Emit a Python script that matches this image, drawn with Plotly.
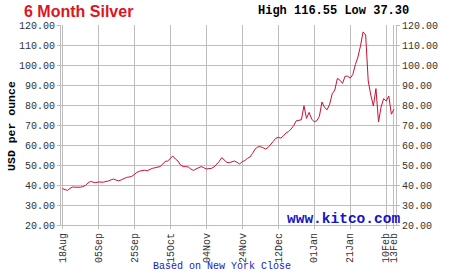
import plotly.graph_objects as go

# Daily silver close (USD/oz), trading-day index 0 = 18Aug ... 129 = 13Feb
prices = [
    38.2, 37.8, 37.3, 38.3, 39.0, 38.9, 38.8, 38.9, 39.2, 39.8,
    41.0, 41.8, 41.4, 41.2, 41.5, 41.3, 41.4, 41.8, 42.0, 42.6,
    43.0, 42.4, 42.1, 42.6, 43.3, 43.8, 44.0, 44.3, 45.2, 46.3,
    46.9, 47.2, 47.4, 47.1, 47.8, 48.3, 48.6, 48.8, 49.2, 50.3,
    51.8, 52.0, 53.2, 54.5, 53.0, 52.0, 50.0, 49.2, 49.2, 49.0,
    48.0, 47.3, 48.0, 48.7, 49.2, 48.7, 48.0, 48.2, 48.3, 49.0,
    50.3, 51.7, 53.7, 52.5, 51.3, 51.2, 51.7, 52.0, 51.3, 50.5,
    51.7, 52.2, 53.3, 54.0, 55.8, 58.0, 59.0, 59.2, 58.7, 58.0,
    58.7, 60.0, 61.7, 63.3, 63.8, 63.5, 64.5, 66.0, 66.7, 68.0,
    69.7, 72.1, 72.4, 72.6, 79.6, 73.3, 76.3, 73.0, 71.6, 72.1,
    74.3, 81.5, 78.8, 77.6, 80.4, 85.7, 87.5, 93.3, 92.4, 90.8,
    94.4, 94.4, 93.4, 95.2, 100.2, 104.0, 109.6, 116.55, 115.0, 92.0,
    85.0, 79.5, 88.2, 71.5, 79.0, 83.2, 82.0, 84.5, 75.4, 77.9,
]
day_index = list(range(len(prices)))

tick_positions = [0, 14, 28, 42, 56, 70, 84, 98, 112, 126, 129]
tick_labels = ["18Aug", "05Sep", "25Sep", "15Oct", "04Nov", "24Nov",
               "12Dec", "01Jan", "21Jan", "10Feb", "13Feb"]
y_ticks = [20, 30, 40, 50, 60, 70, 80, 90, 100, 110, 120]
y_labels = [f"{v:.2f}" for v in y_ticks]

title_text = "6 Month Silver"
hilo_text = "High 116.55 Low 37.30"

MONO = "Liberation Mono, Courier New, monospace"
GRID = "#bdbdbd"

fig = go.Figure()
fig.add_trace(go.Scatter(
    x=day_index, y=prices, mode="lines",
    line=dict(color="#cc1030", width=1),
    hoverinfo="skip", showlegend=False,
))
# invisible trace for right axis
fig.add_trace(go.Scatter(
    x=[day_index[0]], y=[prices[0]], yaxis="y2", mode="markers",
    marker=dict(opacity=0), hoverinfo="skip", showlegend=False,
))

axis_common = dict(
    showline=True, linecolor=GRID, linewidth=1, mirror=False,
    showgrid=True, gridcolor=GRID, gridwidth=1, zeroline=False,
    ticks="outside", ticklen=3, tickcolor=GRID,
    tickfont=dict(family=MONO, size=10, color="#333333"),
)

fig.update_layout(
    width=450, height=275,
    margin=dict(l=61, r=46, t=25, b=48),
    paper_bgcolor="white", plot_bgcolor="white",
    xaxis=dict(
        range=[-0.5, 129.8], tickmode="array",
        tickvals=tick_positions, ticktext=tick_labels, tickangle=-90,
        **axis_common,
    ),
    yaxis=dict(
        range=[20, 120], tickmode="array", tickvals=y_ticks, ticktext=y_labels,
        **axis_common,
    ),
    yaxis2=dict(
        range=[20, 120], tickmode="array", tickvals=y_ticks, ticktext=y_labels,
        overlaying="y", side="right", showgrid=False, zeroline=False,
        showline=True, linecolor=GRID, linewidth=1,
        ticks="outside", ticklen=3, tickcolor=GRID,
        tickfont=dict(family=MONO, size=10, color="#333333"),
    ),
    annotations=[
        dict(text=f"<b>{title_text}</b>", xref="paper", yref="paper",
             x=-0.1174, y=1.066, xanchor="left", yanchor="middle", showarrow=False,
             font=dict(family="Liberation Sans, Arial", size=16, color="#e0141e")),
        dict(text=f"<b>{hilo_text}</b>", xref="paper", yref="paper",
             x=1.0437, y=1.0718, xanchor="right", yanchor="middle", showarrow=False,
             font=dict(family=MONO, size=12, color="black")),
        dict(text="<b>USD per ounce</b>", xref="paper", yref="paper",
             x=-0.1486, y=0.4965, xanchor="center", yanchor="middle", showarrow=False,
             textangle=-90, font=dict(family=MONO, size=11.5, color="black")),
        dict(text="<b>www.kitco.com</b>", xref="paper", yref="paper",
             x=1.0166, y=0.032, xanchor="right", yanchor="middle", showarrow=False,
             font=dict(family=MONO, size=14.5, color="#1414c8")),
        dict(text="Based on New York Close", xref="paper", yref="paper",
             x=0.4806, y=-0.208, xanchor="center", yanchor="middle", showarrow=False,
             font=dict(family=MONO, size=10, color="#1a1ab4")),
    ],
)

fig.write_html("out.html")
